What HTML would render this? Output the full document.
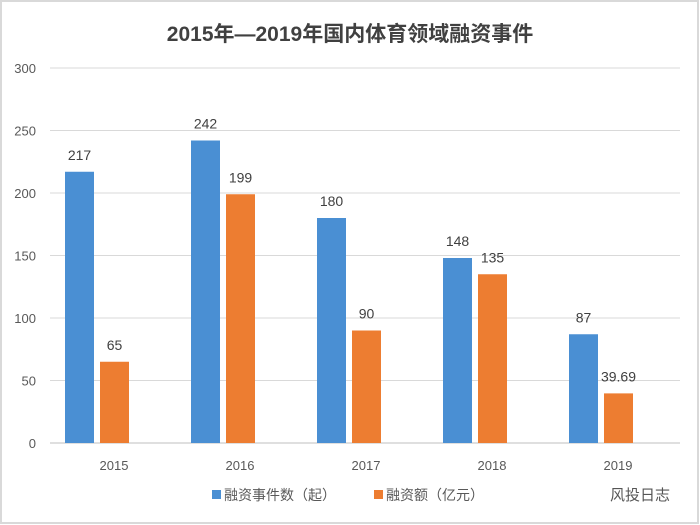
<!DOCTYPE html>
<html><head><meta charset="utf-8"><style>
body{margin:0;background:#fff}
svg{display:block;font-family:"Liberation Sans","Noto Sans CJK SC",sans-serif}
</style></head><body>
<svg id="c" width="700" height="525">
<rect x="1" y="1" width="697" height="522" fill="#fff" stroke="#d9d9d9" stroke-width="2"/>
<text x="350" y="41" text-anchor="middle" font-size="21" font-weight="bold" fill="#404040">2015年—2019年国内体育领域融资事件</text>
<g id="grid"></g><g id="bars"></g><g id="labels"></g>
<g>
<rect x="212" y="490" width="9" height="9" fill="#4a8fd3"/>
<text x="224" y="500" font-size="14" fill="#595959">融资事件数（起）</text>
<rect x="374" y="490" width="9" height="9" fill="#ed7d31"/>
<text x="386" y="500" font-size="14" fill="#595959">融资额（亿元）</text>
</g>
<text x="610" y="500" font-size="15" fill="#555">风投日志</text>
</svg>
<script>
const categories=["2015","2016","2017","2018","2019"];
const counts=[217,242,180,148,87];
const amounts=[65,199,90,135,39.69];
const ticks=[0,50,100,150,200,250,300];
const ns="http://www.w3.org/2000/svg";
const y=v=>443-v*1.25;
const x0=51,cw=126;
function mk(t,a,p){const e=document.createElementNS(ns,t);for(const k in a)e.setAttribute(k,a[k]);p.appendChild(e);return e;}
const g=document.getElementById('grid'),b=document.getElementById('bars'),l=document.getElementById('labels');
ticks.forEach(t=>{
const ln=mk('line',{x1:50,x2:680,y1:y(t),y2:y(t),stroke:t?'#d9d9d9':'#bfbfbf','stroke-width':1},g);


const tx=mk('text',{x:36,y:y(t)+5,'text-anchor':'end','font-size':13,fill:'#595959'},g);tx.textContent=t;


});
categories.forEach((c,i)=>{
const cx=x0+i*cw;
const r1=mk('rect',{x:cx+14,y:y(counts[i]),width:29,height:counts[i]*1.25,fill:'#4a8fd3'},b);


const r2=mk('rect',{x:cx+49,y:y(amounts[i]),width:29,height:amounts[i]*1.25,fill:'#ed7d31'},b);


const t1=mk('text',{x:cx+28.5,y:y(counts[i])-12,'text-anchor':'middle','font-size':14,fill:'#404040'},l);t1.textContent=counts[i];


const t2=mk('text',{x:cx+63.5,y:y(amounts[i])-12,'text-anchor':'middle','font-size':14,fill:'#404040'},l);t2.textContent=amounts[i];


const tc=mk('text',{x:cx+cw/2,y:470,'text-anchor':'middle','font-size':13,fill:'#595959'},l);tc.textContent=c;


});
</script>
</body></html>
